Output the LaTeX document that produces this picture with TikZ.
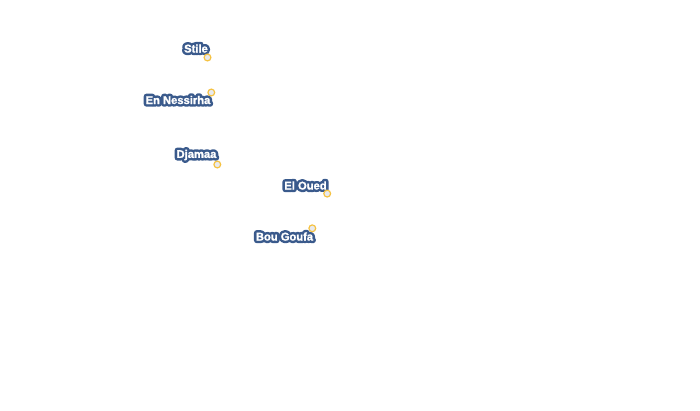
\documentclass[tikz,border=0pt]{standalone}
\usepackage{fontspec}
\setmainfont{Liberation Sans}
\newfontfamily\halofont[FakeBold=47]{Liberation Sans Bold}
\newfontfamily\facefont[FakeBold=1.5]{Liberation Sans Bold}
\definecolor{labelblue}{HTML}{3A5A8C}
\definecolor{markerring}{HTML}{F5C242}
\definecolor{markerfill}{HTML}{E8EAEE}
\newcommand{\halotext}[1]{\leavevmode\special{pdf:code 1 j 1 J}\rlap{\color{labelblue}\halofont #1}{\color{white}\facefont #1}}
\tikzset{
  x=1pt,y=-1pt,
  place/.style={circle,draw=markerring,fill=markerfill,line width=1.2pt,minimum size=6.8pt,inner sep=0pt},
  placelabel/.style={inner sep=0pt,font=\fontsize{11.2}{12}\selectfont}
}
\begin{document}
\begin{tikzpicture}
\useasboundingbox (0,0) rectangle (700,410);
\node[placelabel] (l1) at (196,48.5) {\halotext{Stile}};
\node[placelabel] (l2) at (178,100) {\halotext{En Nessirha}};
\node[placelabel] (l3) at (196.5,155) {\halotext{Djamaa}};
\node[placelabel] (l4) at (305.5,185.5) {\halotext{El Oued}};
\node[placelabel] (l5) at (284.5,236.5) {\halotext{Bou Goufa}};
\node[place] (m1) at (207.5,57.5) {};
\node[place] (m2) at (211.3,92.5) {};
\node[place] (m3) at (217.3,164.5) {};
\node[place] (m4) at (327.2,193.6) {};
\node[place] (m5) at (312.3,228.3) {};
\end{tikzpicture}
\end{document}
